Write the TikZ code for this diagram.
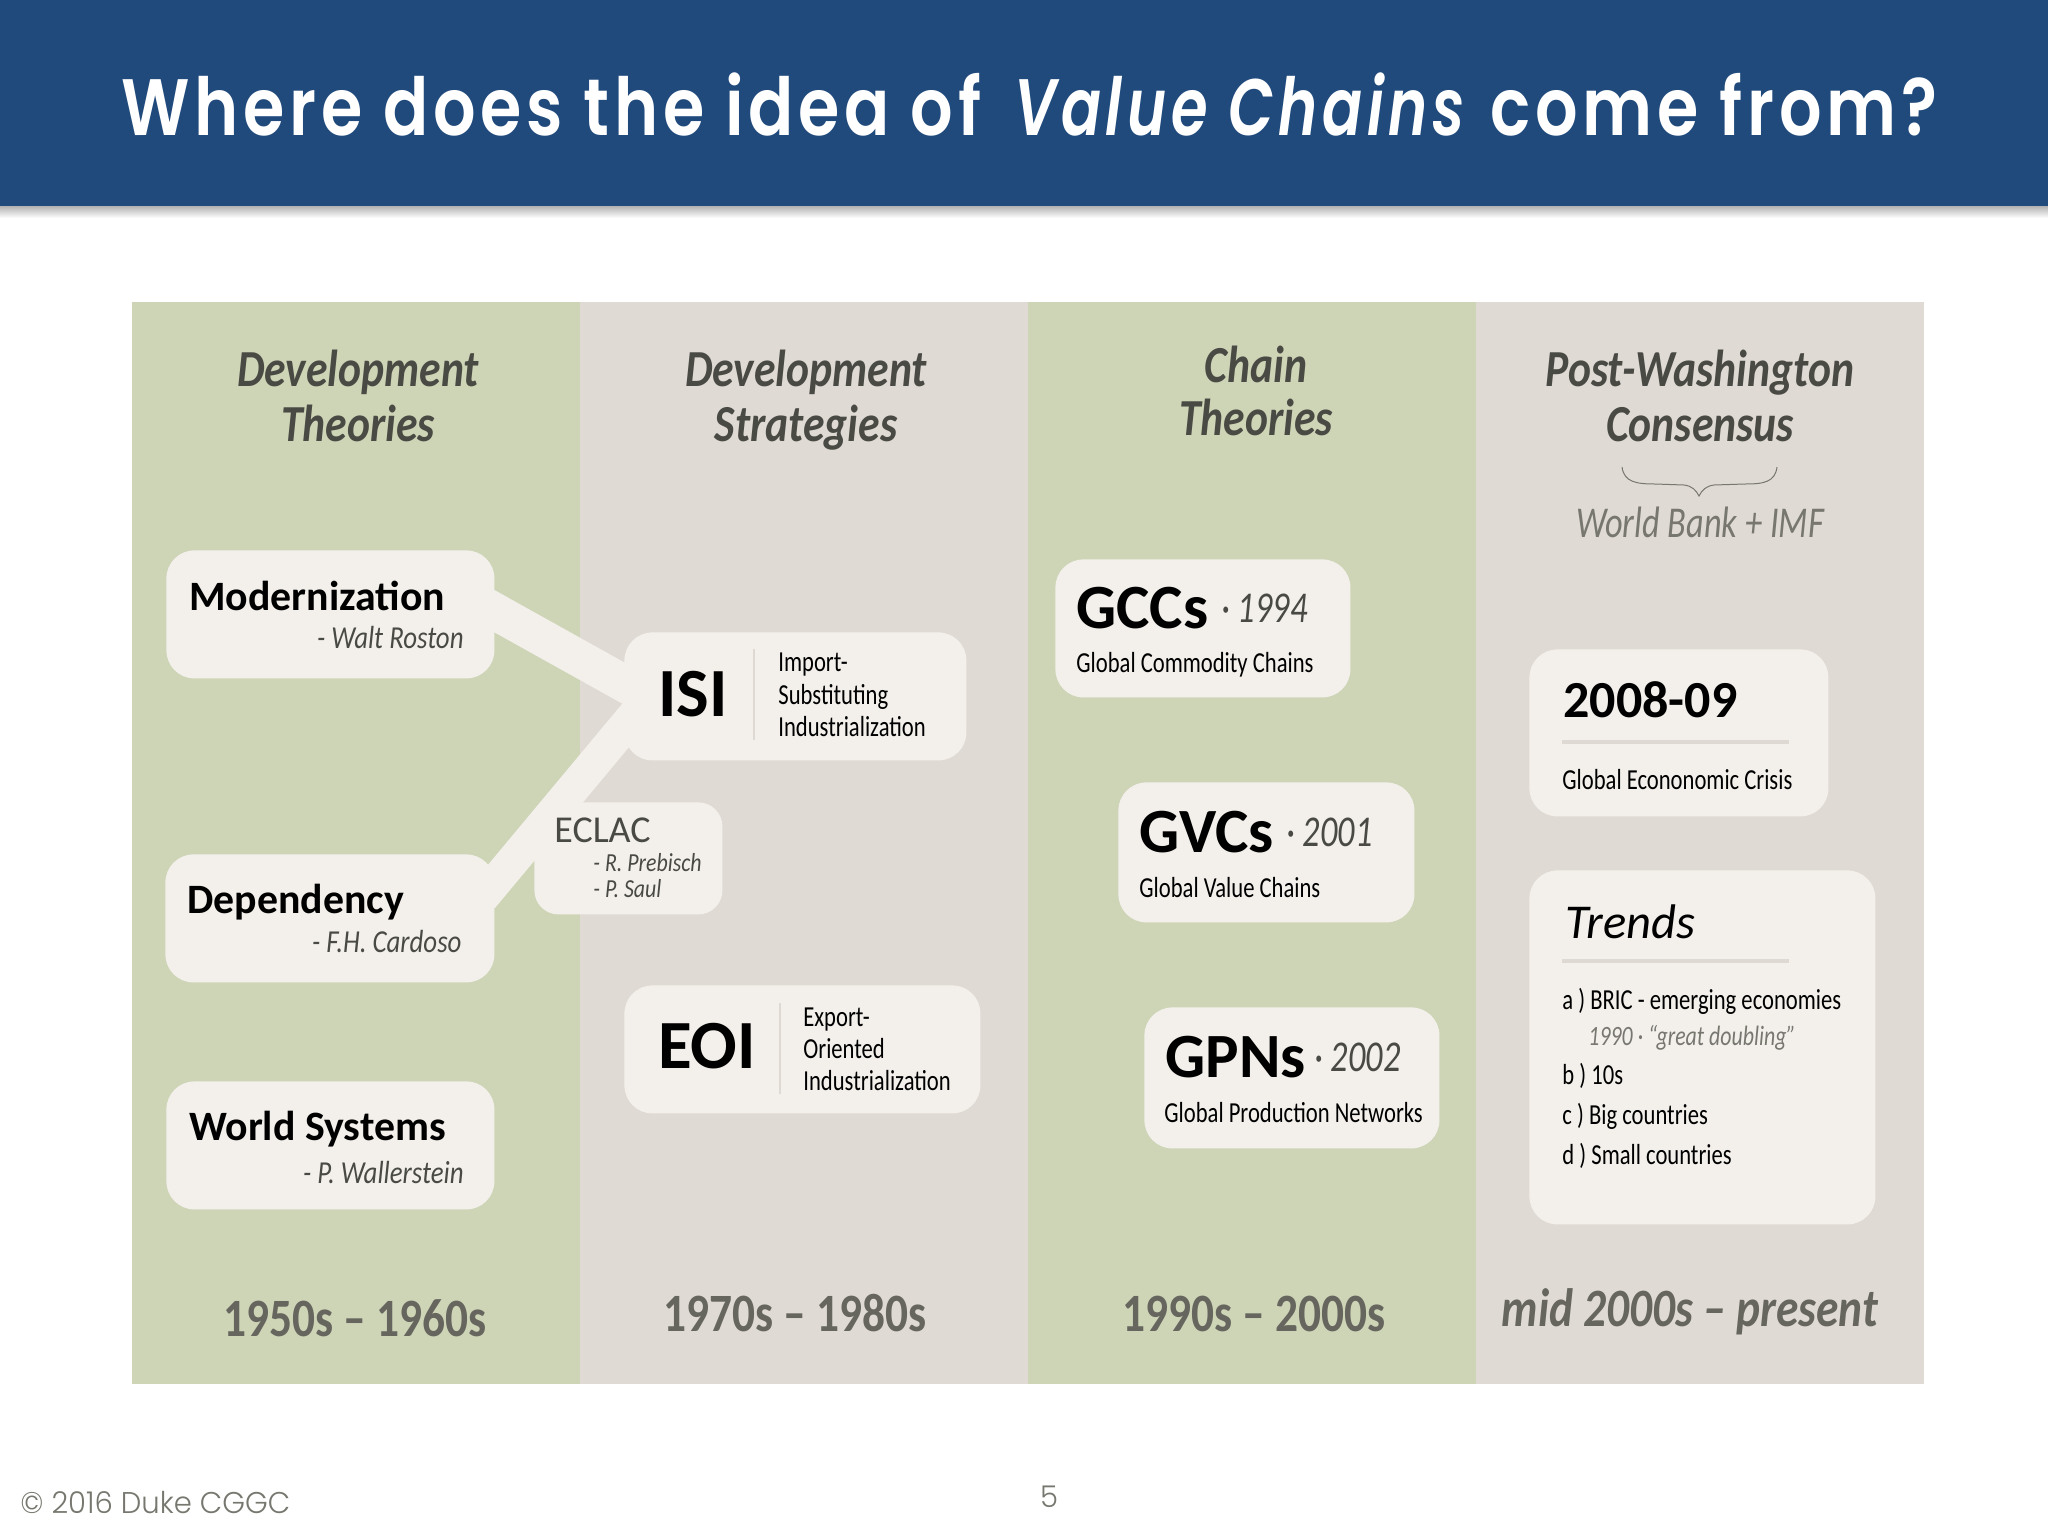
\documentclass[tikz,border=0pt]{standalone}
\usepackage{fontspec}
\usepackage{tikz}
\usetikzlibrary{backgrounds}
\setmainfont{Carlito}
\newfontfamily\titlefont[FakeStretch=0.835,LetterSpace=6,ItalicFeatures={FakeStretch=0.74}]{Poppins SemiBold}
\newfontfamily\footfont[FakeStretch=0.97]{Poppins Light}
\newfontfamily\condfont[FakeStretch=0.78]{Carlito}
\newfontfamily\headfont[FakeStretch=0.84]{Carlito}
\newcommand{\fsize}[1]{\fontsize{#1}{#1}\selectfont}

\definecolor{barblue}{HTML}{204A7C}
\definecolor{panelgreen}{HTML}{CED5B7}
\definecolor{panelbeige}{HTML}{DFDAD3}
\definecolor{boxfill}{HTML}{F3F0EB}
\definecolor{headgray}{HTML}{4A4A44}
\definecolor{yeargray}{HTML}{66665F}
\definecolor{softgray}{HTML}{77776F}
\definecolor{rulegray}{HTML}{DEDAD3}

\tikzset{
  themebox/.style={fill=boxfill, rounded corners=14pt, inner sep=0pt, anchor=north west},
  bandline/.style={draw=boxfill, line width=#1, shorten <=-10pt, shorten >=-10pt},
  txt/.style={inner sep=0pt, anchor=mid west},
  head/.style={inner sep=0pt, anchor=mid, yshift=-7pt, text=headgray, font=\headfont\bfseries\itshape\fsize{26}},
  years/.style={inner sep=0pt, anchor=mid, yshift=-6pt, text=yeargray, font=\headfont\bfseries\fsize{27}},
  author/.style={inner sep=0pt, anchor=mid east, yshift=-2.5pt, text=headgray, font=\headfont\itshape\fsize{16}},
  term/.style={txt, yshift=-4.5pt, text=black, font=\bfseries\fsize{20.9}},
  bigterm/.style={txt, yshift=-8.5pt, text=black, font=\bfseries\fsize{34.5}},
  small/.style={txt, yshift=-2.5pt, text=black, font=\condfont\fsize{14.5}},
  yearnum/.style={txt, yshift=-4pt, text=headgray, font=\condfont\itshape\fsize{22}},
  chainterm/.style={txt, yshift=-7pt, text=black, font=\bfseries\fsize{31.5}},
}

\begin{document}
\begin{tikzpicture}[x=0.5pt,y=-0.5pt]
\useasboundingbox (0,0) rectangle (2048,1536);

% title bar
\shade[top color=black!30, bottom color=white] (0,206) rectangle (2048,218);
\fill[barblue] (0,0) rectangle (2048,206);
\node[txt, yshift=-13pt, text=white, font=\titlefont\fsize{40}] (title) at (121,105) {Where does the idea of\hspace{6pt} \textit{Value Chains} come from?};

% columns
\begin{scope}[on background layer]
\fill[panelgreen] (132,302) rectangle (580,1384);
\fill[panelbeige] (580,302) rectangle (1028,1384);
\fill[panelgreen] (1028,302) rectangle (1476,1384);
\fill[panelbeige] (1476,302) rectangle (1924,1384);
\end{scope}

\node[head] (head1) at (358,397) {\begin{tabular}{c}Development\\[1.5pt] Theories\end{tabular}};
\node[head] (head2) at (806,397) {\begin{tabular}{c}Development\\[1.5pt] Strategies\end{tabular}};
\node[head] (head3) at (1256,392) {\begin{tabular}{c}Chain\\[0.5pt] Theories\end{tabular}};
\node[head] (head4) at (1700,397) {\begin{tabular}{c}Post-Washington\\[1.5pt] Consensus\end{tabular}};

\draw[softgray, line width=0.5pt] (1622,467) .. controls (1624,482) and (1636,484) .. (1655,484) -- (1684,485) .. controls (1692,486) and (1696,490) .. (1699,496) .. controls (1702,490) and (1706,486) .. (1714,485) -- (1745,484) .. controls (1764,484) and (1775,482) .. (1777,467);
\node[inner sep=0pt, text=softgray, font=\condfont\itshape\fsize{22}] (wbimf) at (1700,522) {World Bank + IMF};

% theories
\node[themebox, minimum width=164pt, minimum height=64pt] (modern) at (166,550) {};
\node[term] (moderntxt) at (189,597) {Modernization};
\node[author] (roston) at (464,639) {- Walt Roston};

\node[themebox, minimum width=164.5pt, minimum height=64pt] (depend) at (165,854) {};
\node[term] (dependtxt) at (187,900) {Dependency};
\node[author] (cardoso) at (462,943) {- F.H. Cardoso};

\node[themebox, minimum width=164pt, minimum height=64pt] (world) at (166,1081) {};
\node[term] (worldtxt) at (189,1127) {World Systems};
\node[author] (waller) at (464,1174) {- P. Wallerstein};

% strategies
\node[themebox, minimum width=171pt, minimum height=64pt] (isi) at (624,632) {};
\node[bigterm] (isitxt) at (658,695) {ISI};
\draw[rulegray, line width=1pt] (754,649) -- (754,740);
\node[small] (isi1) at (778,662) {Import-};
\node[small] (isi2) at (778,695) {Substituting};
\node[small] (isi3) at (778,727) {Industrialization};

\node[themebox, minimum width=94pt, minimum height=56pt, rounded corners=12pt] (eclac) at (534,802) {};
\node[txt, yshift=-3pt, text=headgray, font=\fsize{19}] (eclactxt) at (554,832) {ECLAC};
\node[txt, yshift=-1.5pt, text=headgray, font=\headfont\itshape\fsize{13}] (prebisch) at (593,864) {- R. Prebisch};
\node[txt, yshift=-1.5pt, text=headgray, font=\headfont\itshape\fsize{13}] (saul) at (593,890) {- P. Saul};

\node[themebox, minimum width=178pt, minimum height=64pt] (eoi) at (624,985) {};
\node[bigterm] (eoitxt) at (658,1047) {EOI};
\draw[rulegray, line width=1pt] (780,1003) -- (780,1094);
\node[small] (eoi1) at (803,1017) {Export-};
\node[small] (eoi2) at (803,1049) {Oriented};
\node[small] (eoi3) at (803,1081) {Industrialization};

% chains
\node[themebox, minimum width=147.5pt, minimum height=69pt] (gcc) at (1055,559) {};
\node[chainterm] (gcctxt) at (1076,610) {GCCs};
\node[yearnum] (gccyear) at (1221,610) {· 1994};
\node[small] (gccname) at (1076,663) {Global Commodity Chains};

\node[themebox, minimum width=148pt, minimum height=70pt] (gvc) at (1118,782) {};
\node[chainterm] (gvctxt) at (1139,834) {GVCs};
\node[yearnum] (gvcyear) at (1286,834) {· 2001};
\node[small] (gvcname) at (1139,888) {Global Value Chains};

\node[themebox, minimum width=147.5pt, minimum height=70.5pt] (gpn) at (1144,1007) {};
\node[chainterm] (gpntxt) at (1165,1059) {GPNs};
\node[yearnum] (gpnyear) at (1314,1059) {· 2002};
\node[small] (gpnname) at (1164,1113) {Global Production Networks};

% consensus
\node[themebox, minimum width=149.5pt, minimum height=83.5pt] (crisis) at (1529,649) {};
\node[txt, yshift=-6pt, text=black, font=\bfseries\fsize{26}] (crisistxt) at (1563,701) {2008-09};
\draw[rulegray, line width=2pt] (1562,742) -- (1789,742);
\node[small] (crisisname) at (1562,780) {Global Econonomic Crisis};

\node[themebox, minimum width=173pt, minimum height=177pt] (trends) at (1529,870) {};
\node[txt, yshift=-6pt, text=black, font=\itshape\fsize{24.3}] (trendstxt) at (1565,922) {Trends};
\draw[rulegray, line width=2pt] (1562,961) -- (1789,961);
\node[small] (bric) at (1562,1000) {a ) BRIC - emerging economies};
\node[small, text=softgray, font=\condfont\itshape\fsize{14}] (doubling) at (1588,1036) {1990 · “great doubling”};
\node[small] (tens) at (1562,1075) {b ) 10s};
\node[small] (big) at (1562,1115) {c ) Big countries};
\node[small] (little) at (1562,1155) {d ) Small countries};

% periods
\node[years] (years1) at (355,1320) {1950s – 1960s};
\node[years] (years2) at (795,1315) {1970s – 1980s};
\node[years] (years3) at (1254,1315) {1990s – 2000s};
\node[years, font=\headfont\bfseries\itshape\fsize{27}] (years4) at (1690,1310) {mid 2000s – present};

% footer
\node[txt, yshift=-3pt, text=softgray, font=\footfont\fsize{15}] (copyr) at (20,1503) {© 2016 Duke CGGC};
\node[inner sep=0pt, text=softgray, font=\footfont\fsize{15}] (pagenum) at (1049,1497) {5};

% bands behind the boxes
\begin{scope}[on background layer]
\draw[bandline=18.5pt] ([yshift=1.5pt]modern.east) -- ([yshift=6.5pt]isi.west);
\draw[bandline=16.5pt] ([yshift=18pt]depend.east) -- ([yshift=-15.5pt]isi.west);
\end{scope}

\end{tikzpicture}
\end{document}
